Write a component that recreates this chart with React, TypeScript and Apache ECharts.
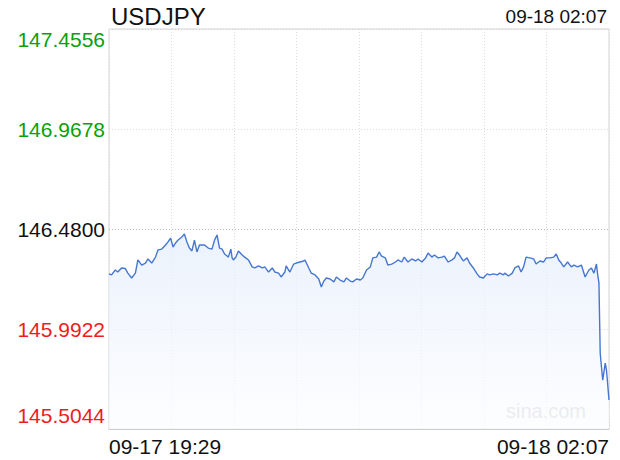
import React, { useEffect, useRef } from "react";
import * as echarts from "echarts";

const symbolName = "USDJPY";
const updateTime = "09-18 02:07";
const startLabel = "09-17 19:29";
const endLabel = "09-18 02:07";
const yMin = 145.5044;
const yMax = 147.4556;
const yStep = 0.4878;
const totalMinutes = 398;

const minutes = [0,2,5,7,10,13,15,18,21,23,26,29,31,34,37,39,42,45,47,49,51,53,55,58,60,62,64,66,68,70,72,76,79,82,84,86,88,90,92,94,95,97,98,99,101,103,106,108,111,114,116,119,122,124,127,130,132,135,137,140,141,144,147,149,152,155,156,159,161,164,167,169,171,173,176,179,181,184,187,189,192,194,197,200,202,205,208,210,213,215,217,220,222,225,228,230,233,235,238,241,244,246,249,252,254,257,259,262,265,267,270,273,275,277,279,282,285,287,290,293,295,298,301,303,306,309,311,314,315,318,321,323,326,328,330,332,335,338,340,343,346,348,351,354,356,358,360,362,365,368,370,373,376,379,382,384,386,388,389,390,391,392,393,395,396,398];

const prices = [146.261,146.256,146.280,146.270,146.290,146.287,146.265,146.241,146.265,146.329,146.304,146.314,146.334,146.314,146.343,146.378,146.382,146.402,146.417,146.436,146.392,146.412,146.426,146.441,146.456,146.417,146.387,146.373,146.426,146.368,146.402,146.402,146.387,146.382,146.426,146.451,146.387,146.382,146.358,146.348,146.343,146.382,146.339,146.329,146.343,146.373,146.353,146.343,146.329,146.295,146.290,146.300,146.290,146.295,146.270,146.290,146.270,146.265,146.246,146.270,146.300,146.270,146.309,146.314,146.319,146.324,146.329,146.290,146.265,146.256,146.236,146.197,146.226,146.241,146.236,146.222,146.246,146.231,146.222,146.241,146.226,146.222,146.236,146.231,146.241,146.280,146.295,146.339,146.343,146.368,146.348,146.339,146.304,146.309,146.319,146.329,146.319,146.343,146.319,146.334,146.324,146.334,146.319,146.339,146.363,146.343,146.353,146.339,146.343,146.348,146.319,146.329,146.339,146.368,146.353,146.324,146.339,146.314,146.290,146.261,146.246,146.241,146.261,146.256,146.261,146.256,146.265,146.256,146.265,146.251,146.265,146.290,146.300,146.270,146.295,146.343,146.339,146.334,146.309,146.324,146.319,146.339,146.339,146.343,146.358,146.329,146.314,146.295,146.319,146.295,146.304,146.295,146.304,146.246,146.280,146.290,146.265,146.309,146.256,146.217,145.875,145.807,145.743,145.826,145.792,145.646];

const FONT = "'Liberation Sans', Arial, Helvetica, sans-serif";

export default function App() {
  const ref = useRef<HTMLDivElement>(null);
  useEffect(() => {
    if (!ref.current) return;
    const chart = echarts.init(ref.current, undefined, { renderer: "svg" });
    const data = minutes.map((m, i) => [m, prices[i]]);
    const labelStyles = ["rb", "r", "k", "g", "gt"];
    chart.setOption({
      animation: false,
      backgroundColor: "#ffffff",
      grid: {
        left: 109,
        right: 11,
        top: 29,
        bottom: 31,
        show: true,
        borderColor: "#d4d4d4",
        borderWidth: 1,
        backgroundColor: "transparent",
      },
      xAxis: {
        type: "value",
        min: 0,
        max: totalMinutes,
        interval: totalMinutes / 8,
        axisLine: { show: true, lineStyle: { color: "#cccccc", width: 1 } },
        axisTick: { show: false },
        splitLine: {
          show: true,
          lineStyle: { color: "#dddddd", type: [1, 2], width: 1 },
        },
        axisLabel: {
          show: true,
          margin: 7,
          fontSize: 21,
          fontFamily: FONT,
          color: "#111111",
          showMinLabel: true,
          showMaxLabel: true,
          alignMinLabel: "left",
          alignMaxLabel: "right",
          formatter: (v: number) => {
            if (v <= 0.001) return startLabel;
            if (v >= totalMinutes - 0.01) return endLabel;
            return "";
          },
        },
      },
      yAxis: {
        type: "value",
        min: yMin,
        max: yMax,
        interval: yStep,
        axisLine: { show: false },
        axisTick: { show: false },
        splitLine: {
          show: true,
          lineStyle: {
            color: ["#d4d4d4", "#dddddd", "#b8b8b8", "#dddddd", "#d4d4d4"],
            type: [1, 2],
            width: 1,
          },
        },
        axisLabel: {
          show: true,
          margin: 4,
          showMinLabel: true,
          showMaxLabel: true,
          formatter: (v: number, idx: number) => {
            const key = labelStyles[idx] || "k";
            return `{${key}|${v.toFixed(4)}}`;
          },
          rich: {
            rb: { color: "#ee1c1c", fontSize: 21, fontFamily: FONT, padding: [0, 0, 28, 0] },
            r: { color: "#ee1c1c", fontSize: 21, fontFamily: FONT },
            k: { color: "#111111", fontSize: 21, fontFamily: FONT },
            g: { color: "#0aa00a", fontSize: 21, fontFamily: FONT },
            gt: { color: "#0aa00a", fontSize: 21, fontFamily: FONT, padding: [20, 0, 0, 0] },
          },
        },
      },
      graphic: [
        {
          type: "text",
          left: 111,
          top: 4,
          style: { text: symbolName, fill: "#111111", font: `24px ${FONT}` },
        },
        {
          type: "text",
          right: 13,
          top: 7,
          style: { text: updateTime, fill: "#111111", font: `19px ${FONT}` },
        },
        {
          type: "text",
          left: 506,
          top: 401,
          z: 0,
          style: { text: "sina.com", fill: "#c8c8c8", font: `20px ${FONT}` },
        },
      ],
      series: [
        {
          type: "line",
          data,
          showSymbol: false,
          symbol: "none",
          lineStyle: { color: "#4677d0", width: 1.4 },
          areaStyle: {
            color: new echarts.graphic.LinearGradient(0, 0, 0, 1, [
              { offset: 0, color: "#e4edfb" },
              { offset: 1, color: "#fcfdff" },
            ]),
          },
        },
      ],
    });
    return () => chart.dispose();
  }, []);
  return (
    <div
      ref={ref}
      style={{ position: "fixed", left: 0, top: 0, width: 620, height: 460 }}
    />
  );
}
